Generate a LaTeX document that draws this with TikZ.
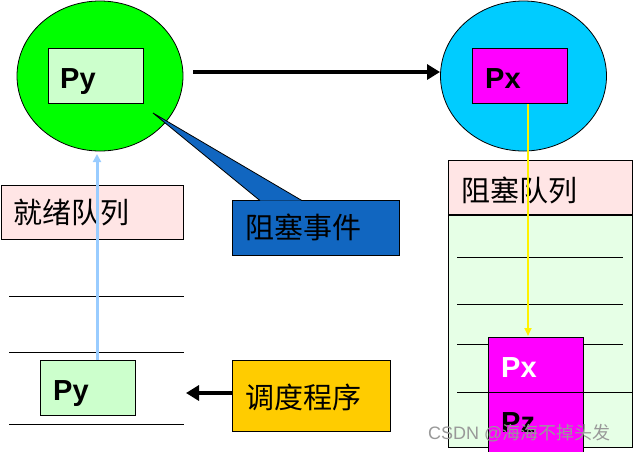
\documentclass[tikz,border=0pt]{standalone}
\usepackage{fontspec}
\setmainfont{Liberation Sans}
\newfontfamily\cjk{Noto Sans CJK SC}
\usetikzlibrary{shapes.geometric,arrows.meta,calc}
\definecolor{bgreen}{HTML}{00FF00}
\definecolor{pgreen}{HTML}{CCFFCC}
\definecolor{lgreen}{HTML}{E6FFE6}
\definecolor{cyanb}{HTML}{00CCFF}
\definecolor{mag}{HTML}{FF00FF}
\definecolor{pinkq}{HTML}{FFE5E5}
\definecolor{calblue}{HTML}{1166C0}
\definecolor{orangey}{HTML}{FFCC00}
\definecolor{lblue}{HTML}{99CCFF}
\begin{document}
\begin{tikzpicture}[x=1pt,y=-1pt,
  proc/.style={ellipse,draw=black,line width=0.8pt,inner sep=0pt,minimum width=166pt,minimum height=150pt},
  pbox/.style={rectangle,draw=black,line width=1.1pt,inner sep=0pt,anchor=north west},
  ptext/.style={font=\fontsize{29}{31}\selectfont\bfseries,inner sep=0pt,anchor=base west},
  ctext/.style={font=\cjk\fontsize{29}{31}\selectfont,inner sep=0pt,anchor=west},
  qline/.style={draw=black,line width=1pt},
  bigarrow/.style={line width=4pt,-{Triangle[length=13pt,width=15pt]}}
]
\useasboundingbox (0,0) rectangle (635,451);
% top ellipses
\node[proc,fill=bgreen] (run) at (100,76) {};
\node[proc,fill=cyanb] (blk) at (523.5,76) {};
\node[pbox,fill=pgreen,minimum width=95pt,minimum height=55pt] (pyt) at (48,48) {};
\node[ptext] (pytt) at (60,88) {Py};
\node[pbox,fill=mag,minimum width=95pt,minimum height=55pt] (pxt) at (472,48) {};
\node[ptext] (pxtt) at (485,88) {Px};
\coordinate (ast) at (193,72);
\coordinate (aen) at (440,72);
\draw[bigarrow] (ast) -- (aen);
% callout
\node[pbox,fill=calblue,minimum width=167pt,minimum height=55pt] (evt) at (232,200) {};
\node[ctext] (evtt) at (245,227) {阻塞事件};
\coordinate (tip) at (153,113);
\coordinate (tl) at (260,200.6);
\coordinate (tr) at (302,200.6);
\fill[calblue] (tip) -- (tl) -- (tr) -- cycle;
\draw[line width=0.8pt] (tl) -- (tip) -- (tr);
% ready queue
\node[pbox,fill=pinkq,minimum width=182pt,minimum height=54pt] (rq) at (1,185) {};
\node[ctext] (rqt) at (13,213) {就绪队列};
\coordinate (l1a) at (9,296); \coordinate (l1b) at (184,296);
\coordinate (l2a) at (9,352); \coordinate (l2b) at (184,352);
\coordinate (l3a) at (9,424); \coordinate (l3b) at (184,424);
\draw[qline] (l1a) -- (l1b);
\draw[qline] (l2a) -- (l2b);
\draw[qline] (l3a) -- (l3b);
\node[pbox,fill=pgreen,minimum width=95pt,minimum height=55pt] (pyb) at (40,360) {};
\node[ptext] (pybt) at (53,400) {Py};
\coordinate (rqtop) at (97,154);
\draw[lblue,line width=3pt,-{Triangle[length=8pt,width=8pt]}] (pyb.north -| rqtop) -- (rqtop);
% scheduler
\node[pbox,fill=orangey,minimum width=158pt,minimum height=71pt] (sch) at (232,360) {};
\node[ctext] (scht) at (245,397) {调度程序};
\coordinate (sen) at (186,393);
\draw[bigarrow] (sch.west |- sen) -- (sen);
% blocked queue
\node[pbox,fill=pinkq,minimum width=184pt,minimum height=55pt] (bqh) at (448,160) {};
\node[ctext] (bqt) at (461,190) {阻塞队列};
\node[pbox,fill=lgreen,minimum width=184pt,minimum height=232pt] (bqb) at (448,215) {};
\draw[line width=2pt] (bqb.north west) -- (bqb.north east);
\coordinate (m1a) at (457,257); \coordinate (m1b) at (623,257);
\coordinate (m2a) at (457,304); \coordinate (m2b) at (623,304);
\coordinate (m3a) at (457,344); \coordinate (m3b) at (623,344);
\coordinate (m4a) at (457,392); \coordinate (m4b) at (632,392);
\draw[qline] (m1a) -- (m1b);
\draw[qline] (m2a) -- (m2b);
\draw[qline] (m3a) -- (m3b);
\draw[qline] (m4a) -- (m4b);
\node[pbox,fill=mag,minimum width=95pt,minimum height=55pt] (pxb) at (488,337) {};
\node[ptext,text=white] (pxbt) at (501,377) {Px};
\node[pbox,fill=mag,minimum width=95pt,minimum height=62pt] (pzb) at (488,392) {};
\node[ptext] (pzbt) at (501,432) {Pz};
\coordinate (ysrc) at (528,104);
\coordinate (ydst) at (528,336);
\draw[yellow,line width=2pt,-{Triangle[length=8pt,width=7pt]}] (ysrc) -- (ydst);
% watermark
\node[inner sep=0pt,anchor=base west,text=gray!80,font=\fontsize{18}{20}\selectfont] (wm) at (428,439) {CSDN @\cjk 海海不掉头发};
\end{tikzpicture}
\end{document}
